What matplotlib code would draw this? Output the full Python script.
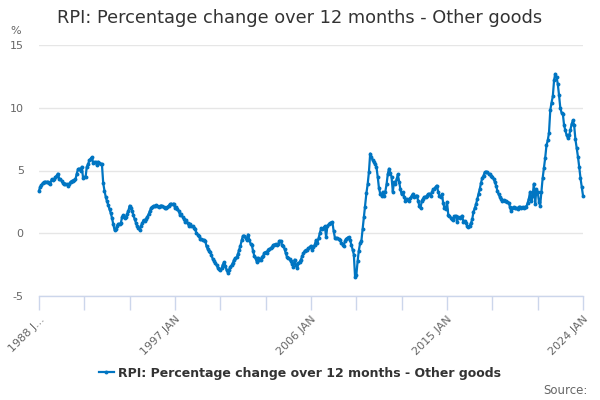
import matplotlib
matplotlib.use("Agg")
import matplotlib.pyplot as plt
import pandas as pd

title = "RPI: Percentage change over 12 months - Other goods"
series_name = "RPI: Percentage change over 12 months - Other goods"
start_month = "1988-01-01"

v1988 = [3.4, 3.7, 3.85, 4.0, 4.05, 4.1, 4.1, 4.1, 4.0, 3.95, 4.3, 4.25]
v1989 = [4.3, 4.45, 4.6, 4.75, 4.35, 4.3, 4.2, 4.0, 3.95, 3.95, 3.9, 3.8]
v1990 = [3.95, 4.1, 4.15, 4.2, 4.25, 4.3, 4.75, 5.1, 5.15, 5.0, 5.3, 4.4]
v1991 = [4.45, 4.5, 5.3, 5.5, 5.8, 5.95, 6.05, 5.6, 5.65, 5.7, 5.4, 5.7]
v1992 = [5.6, 5.55, 5.5, 4.0, 3.4, 2.9, 2.55, 2.25, 1.9, 1.6, 1.2, 0.7]
v1993 = [0.25, 0.3, 0.6, 0.75, 0.75, 0.8, 1.3, 1.45, 1.2, 1.3, 1.55, 1.8]
v1994 = [2.2, 2.0, 1.75, 1.45, 1.1, 0.85, 0.55, 0.45, 0.25, 0.6, 0.8, 1.05]
v1995 = [0.95, 1.15, 1.3, 1.5, 1.75, 2.0, 2.1, 2.2, 2.15, 2.25, 2.2, 2.1]
v1996 = [2.15, 2.2, 2.15, 2.1, 2.05, 2.0, 2.1, 2.2, 2.3, 2.35, 2.3, 2.35]
v1997 = [2.0, 2.1, 1.95, 1.75, 1.45, 1.55, 1.3, 1.15, 0.9, 1.05, 0.8, 0.6]
v1998 = [0.75, 0.6, 0.55, 0.45, 0.3, 0.05, -0.1, -0.2, -0.45, -0.45, -0.5, -0.55]
v1999 = [-0.6, -1.05, -1.25, -1.4, -1.5, -1.75, -2.05, -2.2, -2.35, -2.55, -2.75, -2.85]
v2000 = [-2.95, -2.8, -2.5, -2.3, -2.6, -2.95, -3.15, -2.9, -2.65, -2.55, -2.35, -2.1]
v2001 = [-2.0, -1.9, -1.65, -1.3, -1.0, -0.55, -0.2, -0.2, -0.35, -0.55, -0.1, -0.5]
v2002 = [-0.85, -0.95, -1.4, -1.8, -2.0, -2.3, -1.95, -2.1, -2.1, -1.9, -1.8, -1.55]
v2003 = [-1.5, -1.6, -1.3, -1.25, -1.2, -1.1, -0.95, -0.9, -0.85, -0.95, -0.85, -0.6]
v2004 = [-0.6, -0.95, -1.0, -1.25, -1.6, -1.9, -1.95, -2.05, -2.25, -2.45, -2.7, -2.1]
v2005 = [-2.5, -2.8, -2.4, -2.3, -2.1, -1.85, -1.6, -1.4, -1.35, -1.35, -1.2, -1.1]
v2006 = [-1.0, -1.3, -1.1, -0.9, -0.55, -0.8, -0.4, 0.0, 0.4, 0.3, 0.45, 0.55]
v2007 = [-0.3, 0.6, 0.7, 0.8, 0.85, 0.9, 0.2, -0.35, -0.4, -0.4, -0.45, -0.55]
v2008 = [-0.75, -0.9, -1.0, -0.6, -0.45, -0.35, -0.3, -0.55, -0.9, -1.3, -1.7, -3.5]
v2009 = [-3.3, -2.2, -1.4, -0.8, -0.65, 0.3, 1.3, 2.1, 3.2, 3.9, 4.9, 6.35]
v2010 = [6.1, 5.8, 5.65, 5.5, 5.3, 4.5, 3.6, 3.15, 3.0, 3.3, 3.0, 3.3]
v2011 = [3.9, 4.75, 5.15, 4.8, 4.5, 3.3, 4.1, 3.95, 4.3, 4.7, 4.1, 3.5]
v2012 = [3.1, 3.25, 2.9, 2.6, 2.75, 2.65, 2.6, 2.8, 3.0, 3.15, 2.9, 2.95]
v2013 = [3.0, 2.6, 2.2, 2.0, 2.6, 2.75, 2.9, 2.9, 3.0, 3.1, 3.15, 3.0]
v2014 = [3.3, 3.5, 3.55, 3.7, 3.8, 3.3, 3.0, 2.9, 3.1, 2.4, 2.0, 1.9]
v2015 = [2.5, 1.45, 1.35, 1.25, 1.15, 1.05, 1.35, 1.4, 0.9, 1.3, 1.2, 1.3]
v2016 = [1.4, 0.9, 1.0, 0.85, 0.6, 0.5, 0.6, 0.8, 1.1, 1.7, 2.0, 2.3]
v2017 = [2.7, 3.15, 3.5, 4.0, 4.4, 4.6, 4.85, 4.9, 4.85, 4.75, 4.7, 4.6]
v2018 = [4.5, 4.35, 4.1, 3.8, 3.4, 3.1, 2.9, 2.7, 2.6, 2.65, 2.6, 2.55]
v2019 = [2.5, 2.45, 2.1, 1.75, 2.0, 2.1, 2.05, 2.0, 1.95, 2.1, 2.1, 2.0]
v2020 = [2.1, 2.05, 2.1, 2.1, 2.4, 2.75, 3.3, 2.6, 3.0, 3.95, 2.35, 3.5]
v2021 = [3.3, 2.5, 2.2, 3.3, 4.4, 5.2, 6.0, 7.0, 7.4, 8.0, 9.8, 10.4]
v2022 = [10.9, 12.2, 12.7, 12.45, 11.9, 11.0, 10.0, 9.6, 9.5, 8.6, 8.2, 7.8]
v2023 = [7.6, 7.8, 8.2, 8.7, 9.0, 8.6, 7.5, 6.8, 6.1, 5.3, 4.4, 3.7]
v2024 = [3.0]

values = (v1988 + v1989 + v1990 + v1991 + v1992 + v1993 + v1994 + v1995 + v1996
          + v1997 + v1998 + v1999 + v2000 + v2001 + v2002 + v2003 + v2004 + v2005
          + v2006 + v2007 + v2008 + v2009 + v2010 + v2011 + v2012 + v2013 + v2014
          + v2015 + v2016 + v2017 + v2018 + v2019 + v2020 + v2021 + v2022 + v2023
          + v2024)

tick_years = [1991, 1994, 2000, 2003, 2009, 2012, 2018, 2021]
label_years = [1988, 1997, 2006, 2015, 2024]
label_texts = ["1988 J...", "1997 JAN", "2006 JAN", "2015 JAN", "2024 JAN"]
y_ticks = [-5, 0, 5, 10, 15]

dates = pd.date_range(start_month, periods=len(values), freq="MS")

plt.rcParams['font.family'] = ['DejaVu Sans']
fig = plt.figure(figsize=(6, 4), dpi=100)
ax = fig.add_axes([39/600, 1 - 296/400, (583-39)/600, (296-45)/400])

color = "#0075c2"
line, = ax.plot(dates, values, color=color, lw=1.6, marker='o', ms=2.8,
                markeredgewidth=0, label=series_name, zorder=3, clip_on=False)

ax.set_ylim(-5, 15)
ax.set_xlim(pd.Timestamp("1988-01-01"), pd.Timestamp("2024-01-01"))
ax.set_yticks(y_ticks)
ax.set_yticklabels([str(t) for t in y_ticks])
ax.grid(axis='y', color='#e6e6e6', lw=1)
ax.set_axisbelow(True)

for s in ['top', 'right', 'left']:
    ax.spines[s].set_visible(False)
ax.spines['bottom'].set_color('#ccd6eb')
ax.spines['bottom'].set_linewidth(1)

ax.set_xticks([pd.Timestamp(f"{y}-01-01") for y in label_years])
ax.set_xticklabels(label_texts, rotation=45, ha='right', rotation_mode='anchor')
ax.set_xticks([pd.Timestamp(f"{y}-01-01") for y in tick_years], minor=True)
ax.tick_params(axis='x', which='both', length=10, color='#ccd6eb', width=1,
               labelsize=8, labelcolor='#666666', pad=3)
ax.tick_params(axis='y', length=0, labelsize=8, labelcolor='#666666', pad=11)

fig.text(10/600, 1 - 31/400, "%", fontsize=8, color='#666666', va='center', ha='left')
fig.text(0.5, 1 - 18/400, title, fontsize=12.8, color='#333333', ha='center', va='center')

fig.legend(handles=[line], loc='center', bbox_to_anchor=(0.5, 1 - 373/400),
           frameon=False, prop={'weight': 'bold', 'size': 9}, labelcolor='#333333',
           handlelength=1.2, handletextpad=0.4, markerscale=1.0)
fig.text(588/600, 1 - 390/400, "Source:", fontsize=8.5, color='#666666', ha='right', va='center')

fig.savefig("out.png", dpi=100)
